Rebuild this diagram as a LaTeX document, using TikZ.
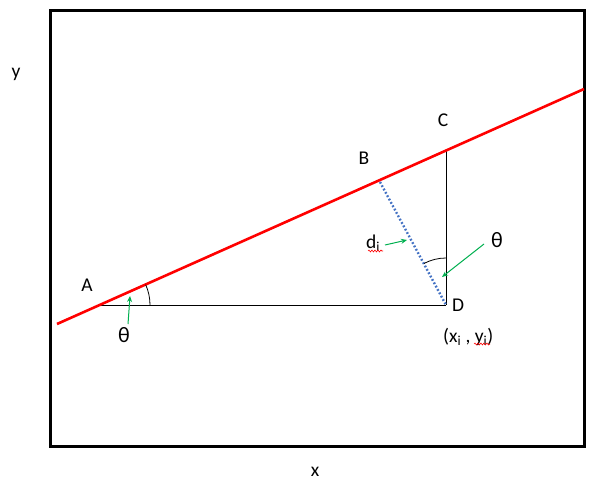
\documentclass[tikz,border=0pt]{standalone}
\usepackage{fontspec}
\setmainfont{Carlito}
\usetikzlibrary{arrows.meta,decorations.pathmorphing}
\definecolor{redline}{RGB}{255,0,0}
\definecolor{bluedot}{RGB}{68,114,196}
\definecolor{greenarr}{RGB}{0,176,80}
\tikzset{
  lbl/.style={inner sep=0pt, font=\fontsize{19.5}{22}\selectfont},
  thetalbl/.style={inner sep=0pt, font=\fontsize{22}{26}\selectfont},
  frame/.style={draw=black, line width=3pt},
  thin/.style={draw=black, line width=0.8pt},
  fitline/.style={draw=redline, line width=2.6pt},
  perp/.style={draw=bluedot, line width=2.4pt, dash pattern=on 1.8pt off 2pt},
  garrow/.style={draw=greenarr, line width=1pt, -{Stealth[length=6pt,width=5pt]}},
  anglearc/.style={draw=black, line width=0.8pt},
  squiggle/.style={draw=red, line width=0.6pt, decorate, decoration={snake, amplitude=0.9pt, segment length=3pt}}
}
\begin{document}
\begin{tikzpicture}[x=1pt,y=-1pt]
\useasboundingbox (0,0) rectangle (609,489);
\fill[white] (0,0) rectangle (609,489);
% frame
\draw[frame] (50,11) rectangle (584,446);
% key points
\coordinate (P0) at (57,324);
\coordinate (P1) at (584,89);
\coordinate (A) at (100,305);
\coordinate (B) at (380,182);
\coordinate (C) at (446,150);
\coordinate (D) at (446,305);
% lines
\draw[thin] (A) -- (D);
\draw[thin] (D) -- (C);
\draw[perp] (B) -- (D);
\draw[fitline] (P0) -- (P1);
% angle arcs
\draw[anglearc] (150,305) arc[start angle=0, end angle=24, radius=50pt];
\draw[anglearc] (446,258) arc[start angle=90, end angle=118, radius=47pt];
% labels
\node[lbl] (ylab) at (16,74) {y};
\node[lbl] (xlab) at (315,472) {x};
\node[lbl] (Alab) at (87,285) {A};
\node[lbl] (Blab) at (364,158) {B};
\node[lbl] (Clab) at (443,120) {C};
\node[lbl] (Dlab) at (458,305) {D};
\node[thetalbl] (th1) at (124,335) {θ};
\node[thetalbl] (th2) at (497,240) {θ};
\node[lbl, anchor=west] (dlab) at (366,243) {d\textsubscript{i}};
\node[lbl, anchor=west] (xylab) at (443,337) {(x\textsubscript{i} , y\textsubscript{i})};
% spell-check squiggles
\coordinate (s1a) at (368,251);
\coordinate (s1b) at (383,251);
\draw[squiggle] (s1a) -- (s1b);
\coordinate (s2a) at (474,344);
\coordinate (s2b) at (490,344);
\draw[squiggle] (s2a) -- (s2b);
% green arrows
\coordinate (g1s) at (128,324);
\coordinate (g1e) at (130,296);
\draw[garrow] (g1s) -- (g1e);
\coordinate (g2s) at (385,245);
\coordinate (g2e) at (407,240);
\draw[garrow] (g2s) -- (g2e);
\coordinate (g3s) at (484,244);
\coordinate (g3e) at (442,277);
\draw[garrow] (g3s) -- (g3e);
\end{tikzpicture}
\end{document}
